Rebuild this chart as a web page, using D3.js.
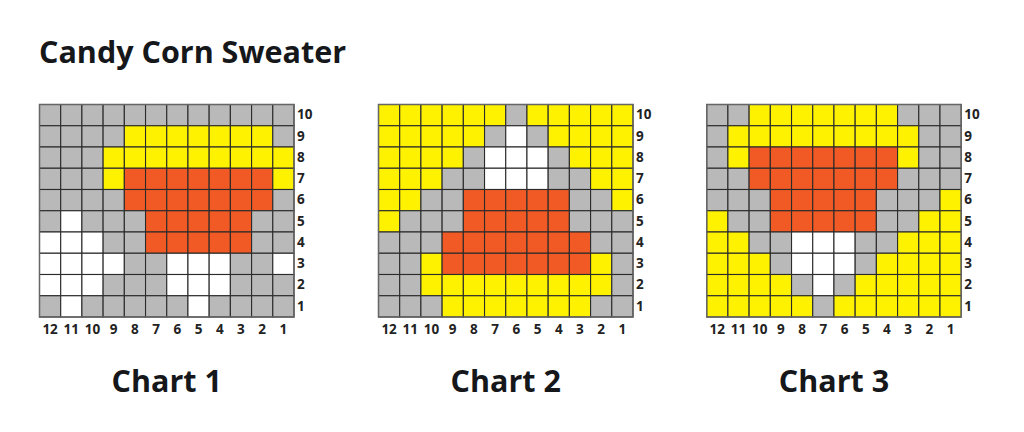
<!DOCTYPE html>
<html>
<head>
    <meta charset="utf-8">
    <title>Candy Corn Sweater</title>
    <script src="https://d3js.org/d3.v7.min.js"></script>
    <style>
        html, body { margin: 0; padding: 0; background: #fff; }
        svg { display: block; }
    </style>
</head>
<body>
<div id="chart"></div>
<script type="text/javascript">
    // stitch columns run right to left, rows bottom to top
    const stitches = [12, 11, 10, 9, 8, 7, 6, 5, 4, 3, 2, 1];
    const rows = [10, 9, 8, 7, 6, 5, 4, 3, 2, 1];

    // G grey, Y yellow, O orange, W white; listed from row 10 down to row 1
    const chart1 = ["GGGGGGGGGGGG", "GGGGYYYYYYYG", "GGGYYYYYYYYY", "GGGYOOOOOOOY", "GGGGOOOOOOOG",
                    "GWGGGOOOOOGG", "WWWGGOOOOOGG", "WWWWGGWWWGGW", "WWWGGGWWWGGG", "GWGGGGGWGGGG"];
    const chart2 = ["YYYYYYGYYYYY", "YYYYYGWGYYYY", "YYYYGWWWGYYY", "YYYGGWWWGGYY", "YYGGOOOOOGGY",
                    "YGGGOOOOOGGG", "GGGOOOOOOOGG", "GGYOOOOOOOYG", "GGYYYYYYYYYG", "GGGYYYYYYYGG"];
    const chart3 = ["GGYYYYYYYGGG", "GYYYYYYYYYGG", "GYOOOOOOOYGG", "GGOOOOOOOGGG", "GGGOOOOOGGGY",
                    "YGGOOOOOGGYY", "YYGGWWWGGYYY", "YYYGWWWGYYYY", "YYYYGWGYYYYY", "YYYYYGYYYYYY"];
    const chartNames = ["Chart 1", "Chart 2", "Chart 3"];

    const colour = d3.scaleOrdinal()
        .domain(["G", "Y", "O", "W"])
        .range(["#b9b9b9", "#fff200", "#f15a24", "#ffffff"]);

    const width = 1024, height = 432;
    const gridW = 254.5, gridH = 212.5;
    const lefts = [39.5, 378.5, 706.7];
    const top_ = 104.5;
    const font = "'Open Sans', sans-serif";

    const svg = d3.select("#chart").append("svg")
        .attr("width", width)
        .attr("height", height);

    svg.append("text")
        .attr("x", 39)
        .attr("y", 63)
        .attr("font-family", font)
        .attr("font-size", "30.5px")
        .attr("font-weight", "700")
        .attr("fill", "#15171a")
        .text("Candy Corn Sweater");

    const xScale = d3.scaleBand().domain(stitches).range([0, gridW]);
    const yScale = d3.scaleBand().domain(rows).range([0, gridH]);

    [chart1, chart2, chart3].forEach(function(grid, i) {
        const g = svg.append("g")
            .attr("transform", "translate(" + lefts[i] + "," + top_ + ")");

        const cells = [];
        grid.forEach(function(line, r) {
            stitches.forEach(function(s, c) {
                cells.push({row: rows[r], stitch: s, code: line[c]});
            });
        });

        g.selectAll("rect")
            .data(cells)
            .enter()
            .append("rect")
            .attr("x", function(d) { return xScale(d.stitch); })
            .attr("y", function(d) { return yScale(d.row); })
            .attr("width", xScale.bandwidth())
            .attr("height", yScale.bandwidth())
            .style("fill", function(d) { return colour(d.code); })
            .style("stroke", "#2b2b2b")
            .style("stroke-width", 1.1);

        // outer edge of the grid is softer than the inner lines
        g.append("rect")
            .attr("width", gridW)
            .attr("height", gridH)
            .style("fill", "none")
            .style("stroke", "#666")
            .style("stroke-width", 1.4);

        // bottom axis: stitch numbers
        const xAxis = g.append("g")
            .attr("transform", "translate(0," + gridH + ")")
            .call(d3.axisBottom(xScale).tickSize(0).tickPadding(7));
        xAxis.select(".domain").remove();
        xAxis.selectAll("text")
            .attr("font-family", font)
            .attr("font-size", "13.5px")
            .attr("font-weight", "700")
            .attr("fill", "#222");

        // right axis: row numbers
        const yAxis = g.append("g")
            .attr("transform", "translate(" + gridW + ",0)")
            .call(d3.axisRight(yScale).tickSize(0).tickPadding(3));
        yAxis.select(".domain").remove();
        yAxis.selectAll("text")
            .attr("font-family", font)
            .attr("font-size", "13.5px")
            .attr("font-weight", "700")
            .attr("fill", "#222");

        g.append("text")
            .attr("x", gridW / 2)
            .attr("y", 287)
            .attr("text-anchor", "middle")
            .attr("font-family", font)
            .attr("font-size", "30.5px")
            .attr("font-weight", "700")
            .attr("fill", "#15171a")
            .text(chartNames[i]);
    });
</script>
</body>
</html>
